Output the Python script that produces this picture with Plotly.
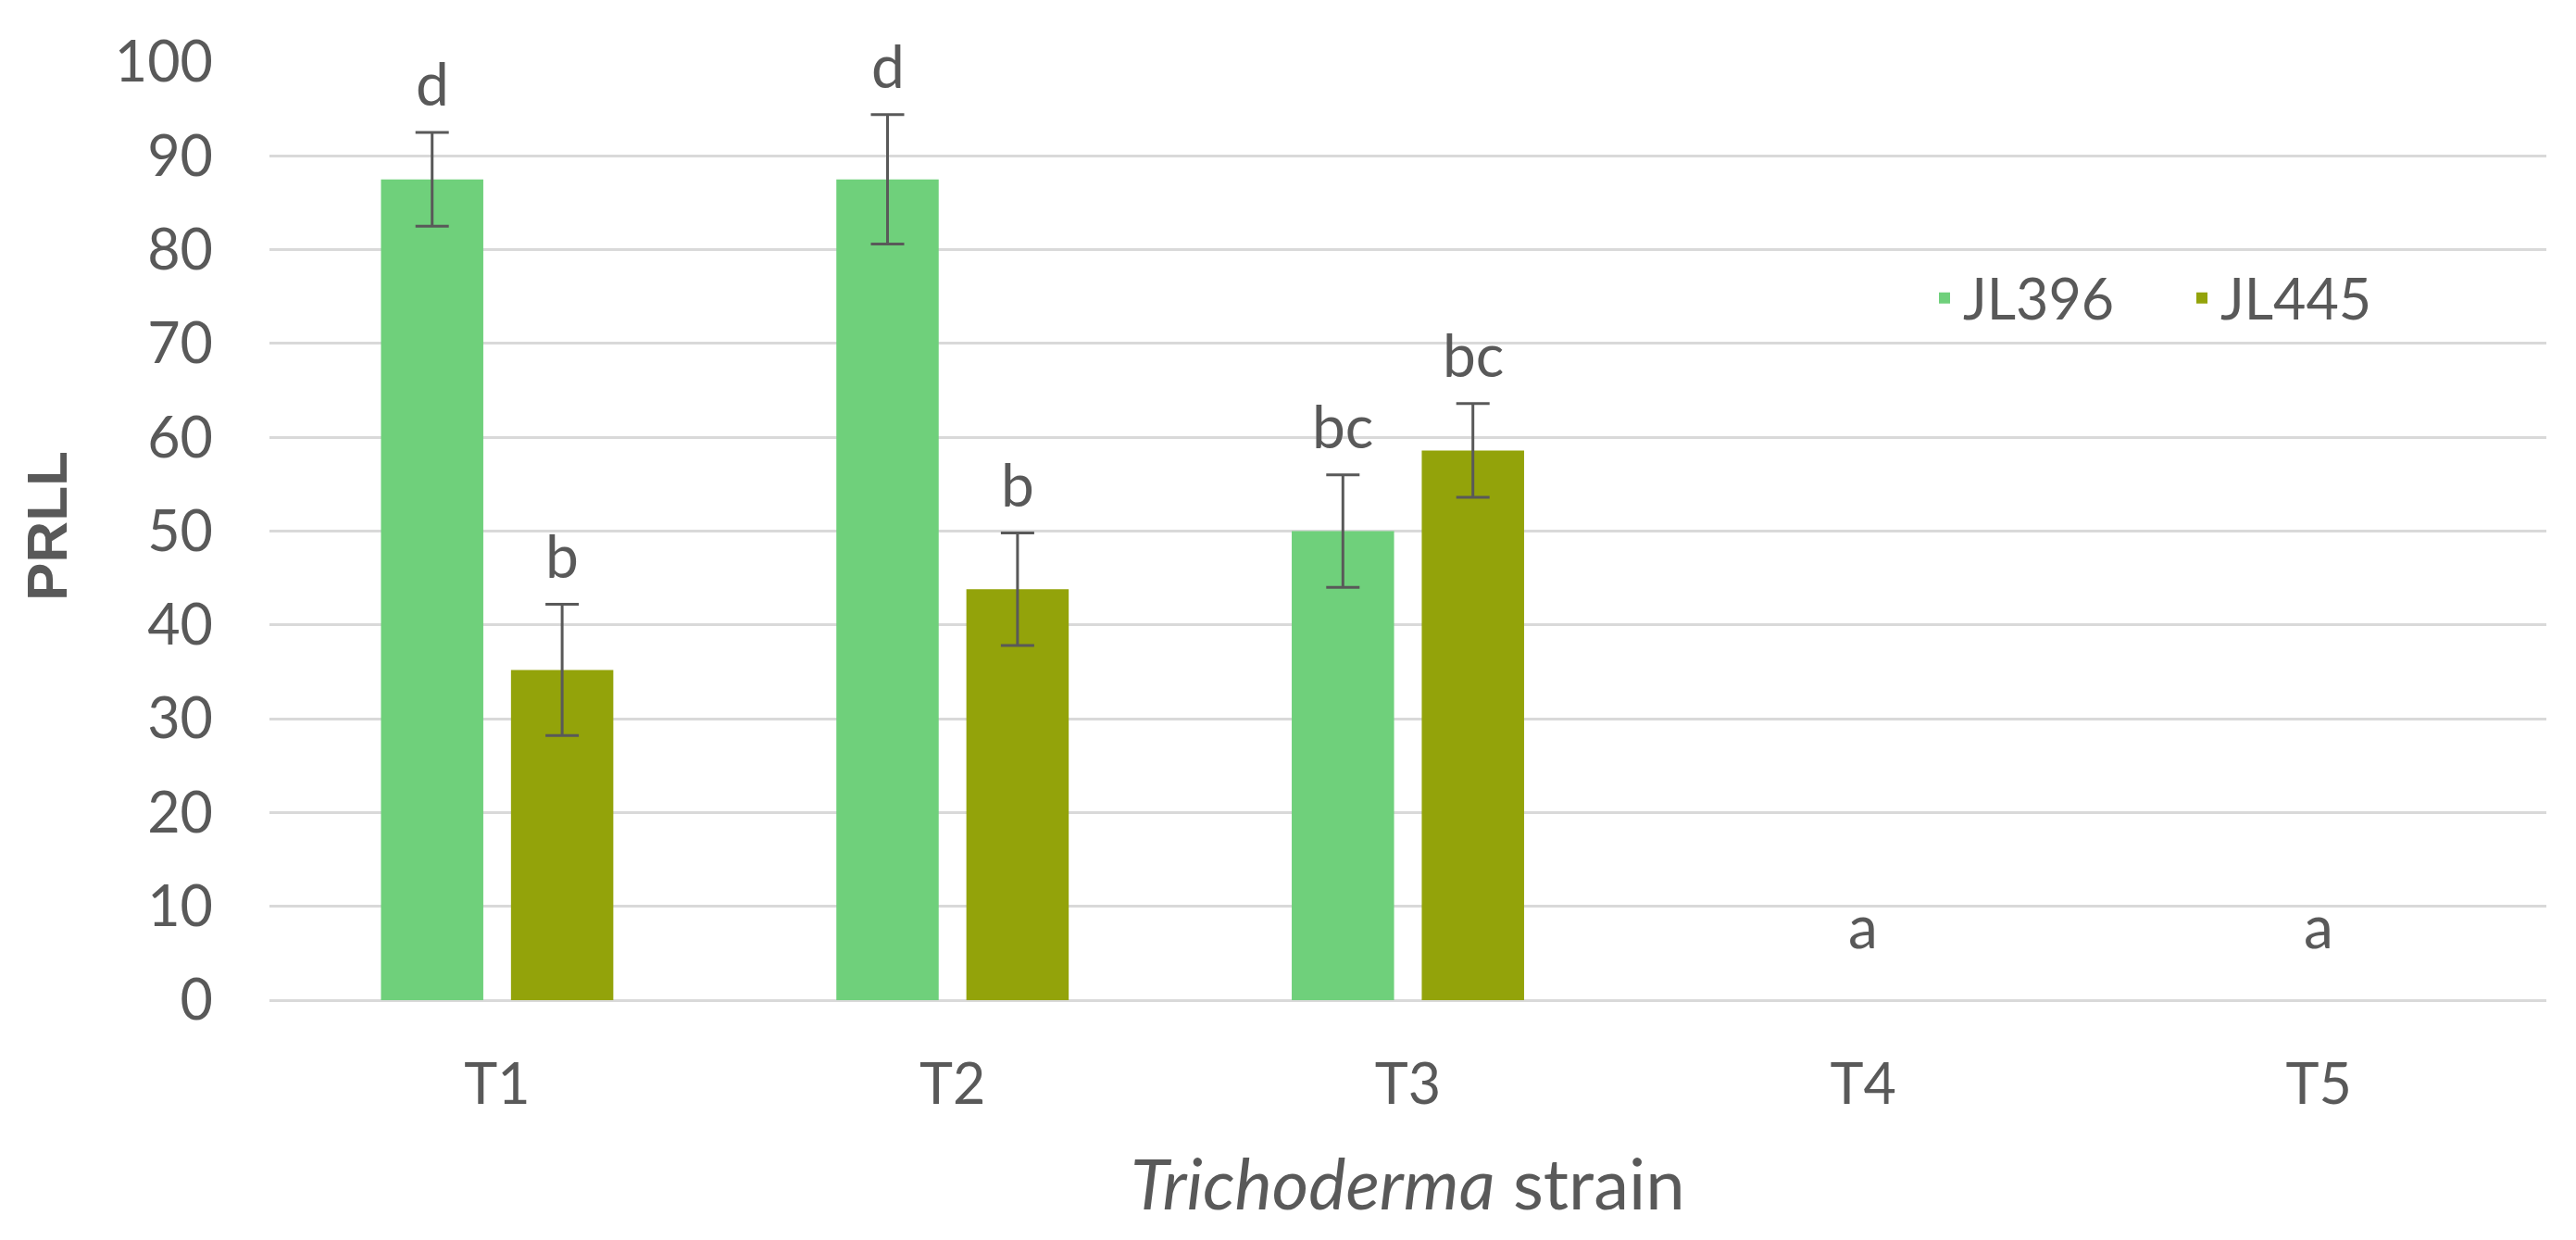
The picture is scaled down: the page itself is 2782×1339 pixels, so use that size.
import plotly.graph_objects as go

strains = ["T1", "T2", "T3", "T4", "T5"]
series_names = ["JL396", "JL445"]
jl396_values = [87.5, 87.5, 50.0, 0, 0]
jl396_errors = [5.0, 6.9, 6.0, 0, 0]
jl445_values = [35.2, 43.8, 58.6, 0, 0]
jl445_errors = [7.0, 6.0, 5.0, 0, 0]
jl396_letters = ["d", "d", "bc", None, None]
jl445_letters = ["b", "b", "bc", None, None]
group_letters = [None, None, None, "a", "a"]
y_ticks = [0, 10, 20, 30, 40, 50, 60, 70, 80, 90, 100]

W, H = 2782, 1339
ML, MR, MT, MB = 291, 32, 67, 259
BARGAP = 0.429
BARGROUPGAP = 0.213
TXT = "#595959"
FONT = "Lato, 'Open Sans', sans-serif"
GREEN = "#6FD07B"
OLIVE = "#93A30A"

fig = go.Figure()
for name, vals, errs, col in [
    (series_names[0], jl396_values, jl396_errors, GREEN),
    (series_names[1], jl445_values, jl445_errors, OLIVE),
]:
    # zero-height bars are not drawn (avoids stray error caps at zero)
    y_draw = [v if v > 0 else None for v in vals]
    fig.add_trace(go.Bar(
        name=name, x=strains, y=y_draw,
        marker=dict(color=col, line=dict(width=0)),
        error_y=dict(type="data", array=errs, visible=True,
                     color="#595959", thickness=3, width=18),
    ))

# significance letters
offset = (1 - BARGAP) / 4.0
annots = []
for i, s in enumerate(strains):
    for letters, vals, errs, sign in [
        (jl396_letters, jl396_values, jl396_errors, -1),
        (jl445_letters, jl445_values, jl445_errors, 1),
    ]:
        if letters[i]:
            annots.append(dict(
                x=i + sign * offset, y=vals[i] + errs[i], xref="x", yref="y",
                text=letters[i], showarrow=False, yanchor="bottom", xanchor="center",
                yshift=13, font=dict(family=FONT, size=64, color=TXT)))
    if group_letters[i]:
        annots.append(dict(
            x=i, y=0, xref="x", yref="y", text=group_letters[i], showarrow=False,
            yanchor="bottom", xanchor="center", yshift=40,
            font=dict(family=FONT, size=64, color=TXT)))

pw = W - ML - MR
ph = H - MT - MB
annots.append(dict(
    x=(50 - ML) / pw, y=(H - MB - 568) / ph, xref="paper", yref="paper",
    text="PRLL", textangle=-90, showarrow=False,
    xanchor="center", yanchor="middle",
    font=dict(family="Liberation Sans", size=62, color=TXT, weight="bold")))
annots.append(dict(
    x=0.5, y=(H - MB - 1276) / ph, xref="paper", yref="paper",
    text="<i>Trichoderma</i> strain", showarrow=False,
    xanchor="center", yanchor="middle",
    font=dict(family=FONT, size=76, color=TXT)))

fig.update_layout(
    width=W, height=H,
    margin=dict(l=ML, r=MR, t=MT, b=MB),
    paper_bgcolor="white", plot_bgcolor="white",
    barmode="group", bargap=BARGAP, bargroupgap=BARGROUPGAP,
    font=dict(family=FONT, size=61, color=TXT),
    showlegend=True,
    legend=dict(orientation="h", x=(2080 - ML) / pw, y=(H - MB - 322) / ph,
                xanchor="left", yanchor="middle", entrywidth=233,
                font=dict(family=FONT, size=61, color=TXT),
                bgcolor="rgba(0,0,0,0)"),
    annotations=annots,
)
fig.update_xaxes(showgrid=False, showline=False, zeroline=False, ticks="",
                 tickfont=dict(family=FONT, size=61, color=TXT), ticklabelstandoff=50)
fig.update_yaxes(range=[0, 100], tickvals=y_ticks, showgrid=True, gridcolor="#D9D9D9",
                 gridwidth=3, zeroline=True, zerolinecolor="#D9D9D9", zerolinewidth=3,
                 showline=False, ticks="", tickfont=dict(family=FONT, size=61, color=TXT),
                 ticklabelstandoff=60)

fig.write_html("out.html", config={"displayModeBar": False},
               post_script="document.body.style.margin='0';document.body.style.overflow='hidden';")
